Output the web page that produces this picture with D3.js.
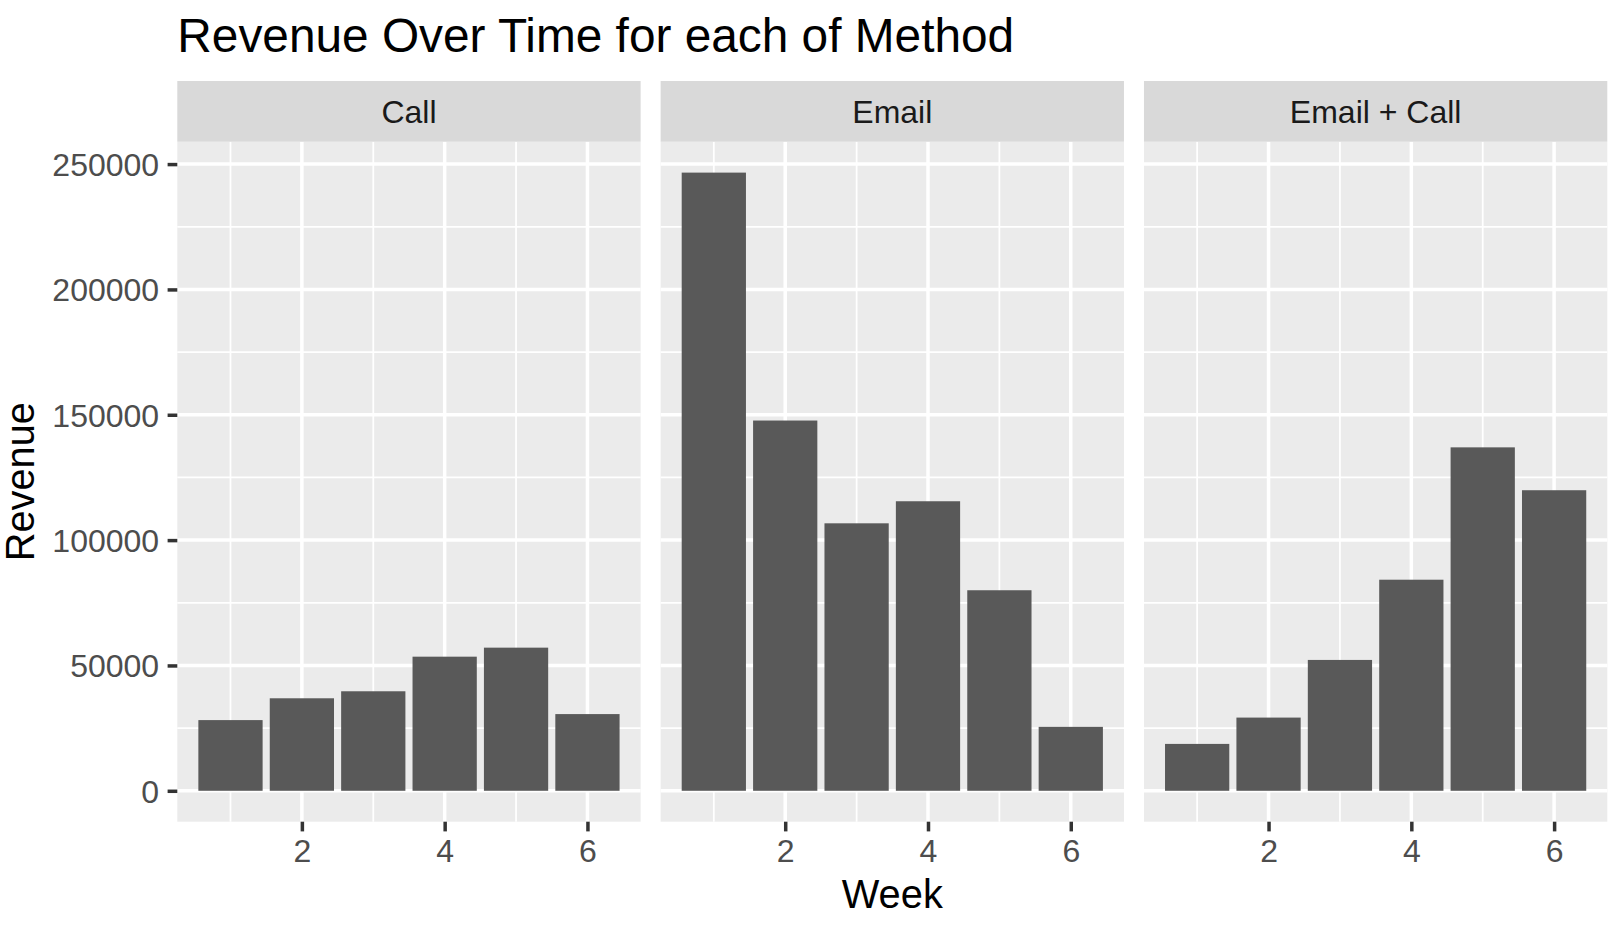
<!DOCTYPE html>
<html>
<head>
<meta charset="utf-8">
<script src="https://cdn.jsdelivr.net/npm/d3@7"></script>
<style>
  html, body { margin: 0; padding: 0; background: #ffffff; }
  svg { display: block; font-family: "Liberation Sans", Arial, Helvetica, sans-serif; }
</style>
</head>
<body>
<svg id="chart" width="1616" height="934"></svg>
<script>
// ---- data ----
const methods = ["Call", "Email", "Email + Call"];
const weeks = [1, 2, 3, 4, 5, 6];
const callRevenue = [28200, 36900, 39700, 53500, 57100, 30600];
const emailRevenue = [246600, 147700, 106700, 115500, 80000, 25500];
const emailCallRevenue = [18700, 29200, 52200, 84200, 137000, 119900];
const yTicks = [0, 50000, 100000, 150000, 200000, 250000];
const yMinor = [25000, 75000, 125000, 175000, 225000];
const xTicks = [2, 4, 6];
const xMinor = [1, 3, 5];
const titleText = "Revenue Over Time for each of Method";
const xTitle = "Week";
const yTitle = "Revenue";

const seriesByMethod = [callRevenue, emailRevenue, emailCallRevenue];

// ---- layout ----
const svg = d3.select("#chart");
const plotLeft = 177.3, plotRight = 1607.3;
const gap = 20;
const panelW = (plotRight - plotLeft - 2 * gap) / 3;
const stripTop = 81, stripBottom = 141.7, panelBottom = 821.7;
const barWidth = 0.9;

// x domain with ggplot-like 5% expansion
const xMin = 1 - barWidth / 2, xMax = 6 + barWidth / 2;
const xPad = (xMax - xMin) * 0.05;
const yMax = d3.max(seriesByMethod.flat());
const yPad = yMax * 0.05;

const y = d3.scaleLinear().domain([-yPad, yMax + yPad]).range([panelBottom, stripBottom]);

const fontAxis = 32, fontStrip = 32, fontTitle = 47.8, fontAxisTitle = 39.8;

methods.forEach((m, i) => {
  const x0 = plotLeft + i * (panelW + gap);
  const x = d3.scaleLinear().domain([xMin - xPad, xMax + xPad]).range([x0, x0 + panelW]);
  const g = svg.append("g");

  // panel background
  g.append("rect").attr("x", x0).attr("y", stripBottom)
    .attr("width", panelW).attr("height", panelBottom - stripBottom).attr("fill", "#EBEBEB");

  // minor grid
  g.selectAll(".ymin").data(yMinor).enter().append("line")
    .attr("x1", x0).attr("x2", x0 + panelW)
    .attr("y1", d => y(d)).attr("y2", d => y(d))
    .attr("stroke", "#ffffff").attr("stroke-width", 1.75);
  g.selectAll(".xmin").data(xMinor).enter().append("line")
    .attr("y1", stripBottom).attr("y2", panelBottom)
    .attr("x1", d => x(d)).attr("x2", d => x(d))
    .attr("stroke", "#ffffff").attr("stroke-width", 1.75);
  // major grid
  g.selectAll(".ymaj").data(yTicks).enter().append("line")
    .attr("x1", x0).attr("x2", x0 + panelW)
    .attr("y1", d => y(d)).attr("y2", d => y(d))
    .attr("stroke", "#ffffff").attr("stroke-width", 3.5);
  g.selectAll(".xmaj").data(xTicks).enter().append("line")
    .attr("y1", stripBottom).attr("y2", panelBottom)
    .attr("x1", d => x(d)).attr("x2", d => x(d))
    .attr("stroke", "#ffffff").attr("stroke-width", 3.5);

  // bars
  const vals = seriesByMethod[i];
  g.selectAll(".bar").data(weeks).enter().append("rect")
    .attr("x", (d) => x(d - barWidth / 2))
    .attr("width", (d) => x(d + barWidth / 2) - x(d - barWidth / 2))
    .attr("y", (d, j) => y(vals[j]))
    .attr("height", (d, j) => y(0) - y(vals[j]))
    .attr("fill", "#595959");

  // strip
  g.append("rect").attr("x", x0).attr("y", stripTop)
    .attr("width", panelW).attr("height", stripBottom - stripTop).attr("fill", "#D9D9D9");
  g.append("text").attr("x", x0 + panelW / 2).attr("y", (stripTop + stripBottom) / 2 + 0.358 * fontStrip)
    .attr("text-anchor", "middle").attr("font-size", fontStrip).attr("fill", "#1A1A1A").text(m);

  // x axis
  const xAxis = d3.axisBottom(x).tickValues(xTicks).tickSize(9.7).tickPadding(7.7).tickFormat(d3.format("d"));
  const ax = g.append("g").attr("transform", `translate(0,${panelBottom})`).call(xAxis);
  ax.select(".domain").remove();
  ax.selectAll(".tick line").attr("stroke", "#333333").attr("stroke-width", 3.5);
  ax.selectAll(".tick text").attr("font-size", fontAxis).attr("fill", "#4D4D4D")
    .attr("font-family", "Liberation Sans, Arial, sans-serif").attr("dy", null).attr("y", 862 - panelBottom);

  if (i === 0) {
    const yAxis = d3.axisLeft(y).tickValues(yTicks).tickSize(9.7).tickPadding(8.5).tickFormat(d3.format("d"));
    const ay = g.append("g").attr("transform", `translate(${x0},0)`).call(yAxis);
    ay.select(".domain").remove();
    ay.selectAll(".tick line").attr("stroke", "#333333").attr("stroke-width", 3.5);
    ay.selectAll(".tick text").attr("font-size", fontAxis).attr("fill", "#4D4D4D")
      .attr("font-family", "Liberation Sans, Arial, sans-serif").attr("dy", "0.36em");
  }
});

// titles
svg.append("text").attr("x", plotLeft).attr("y", 51.7)
  .attr("font-size", fontTitle).attr("fill", "#000000").text(titleText);
svg.append("text").attr("x", (plotLeft + plotRight) / 2).attr("y", 908.3)
  .attr("text-anchor", "middle").attr("font-size", fontAxisTitle).attr("fill", "#000000").text(xTitle);
svg.append("text").attr("transform", `translate(34,${(stripBottom + panelBottom) / 2}) rotate(-90)`)
  .attr("text-anchor", "middle").attr("font-size", fontAxisTitle).attr("fill", "#000000").text(yTitle);
</script>
</body>
</html>
